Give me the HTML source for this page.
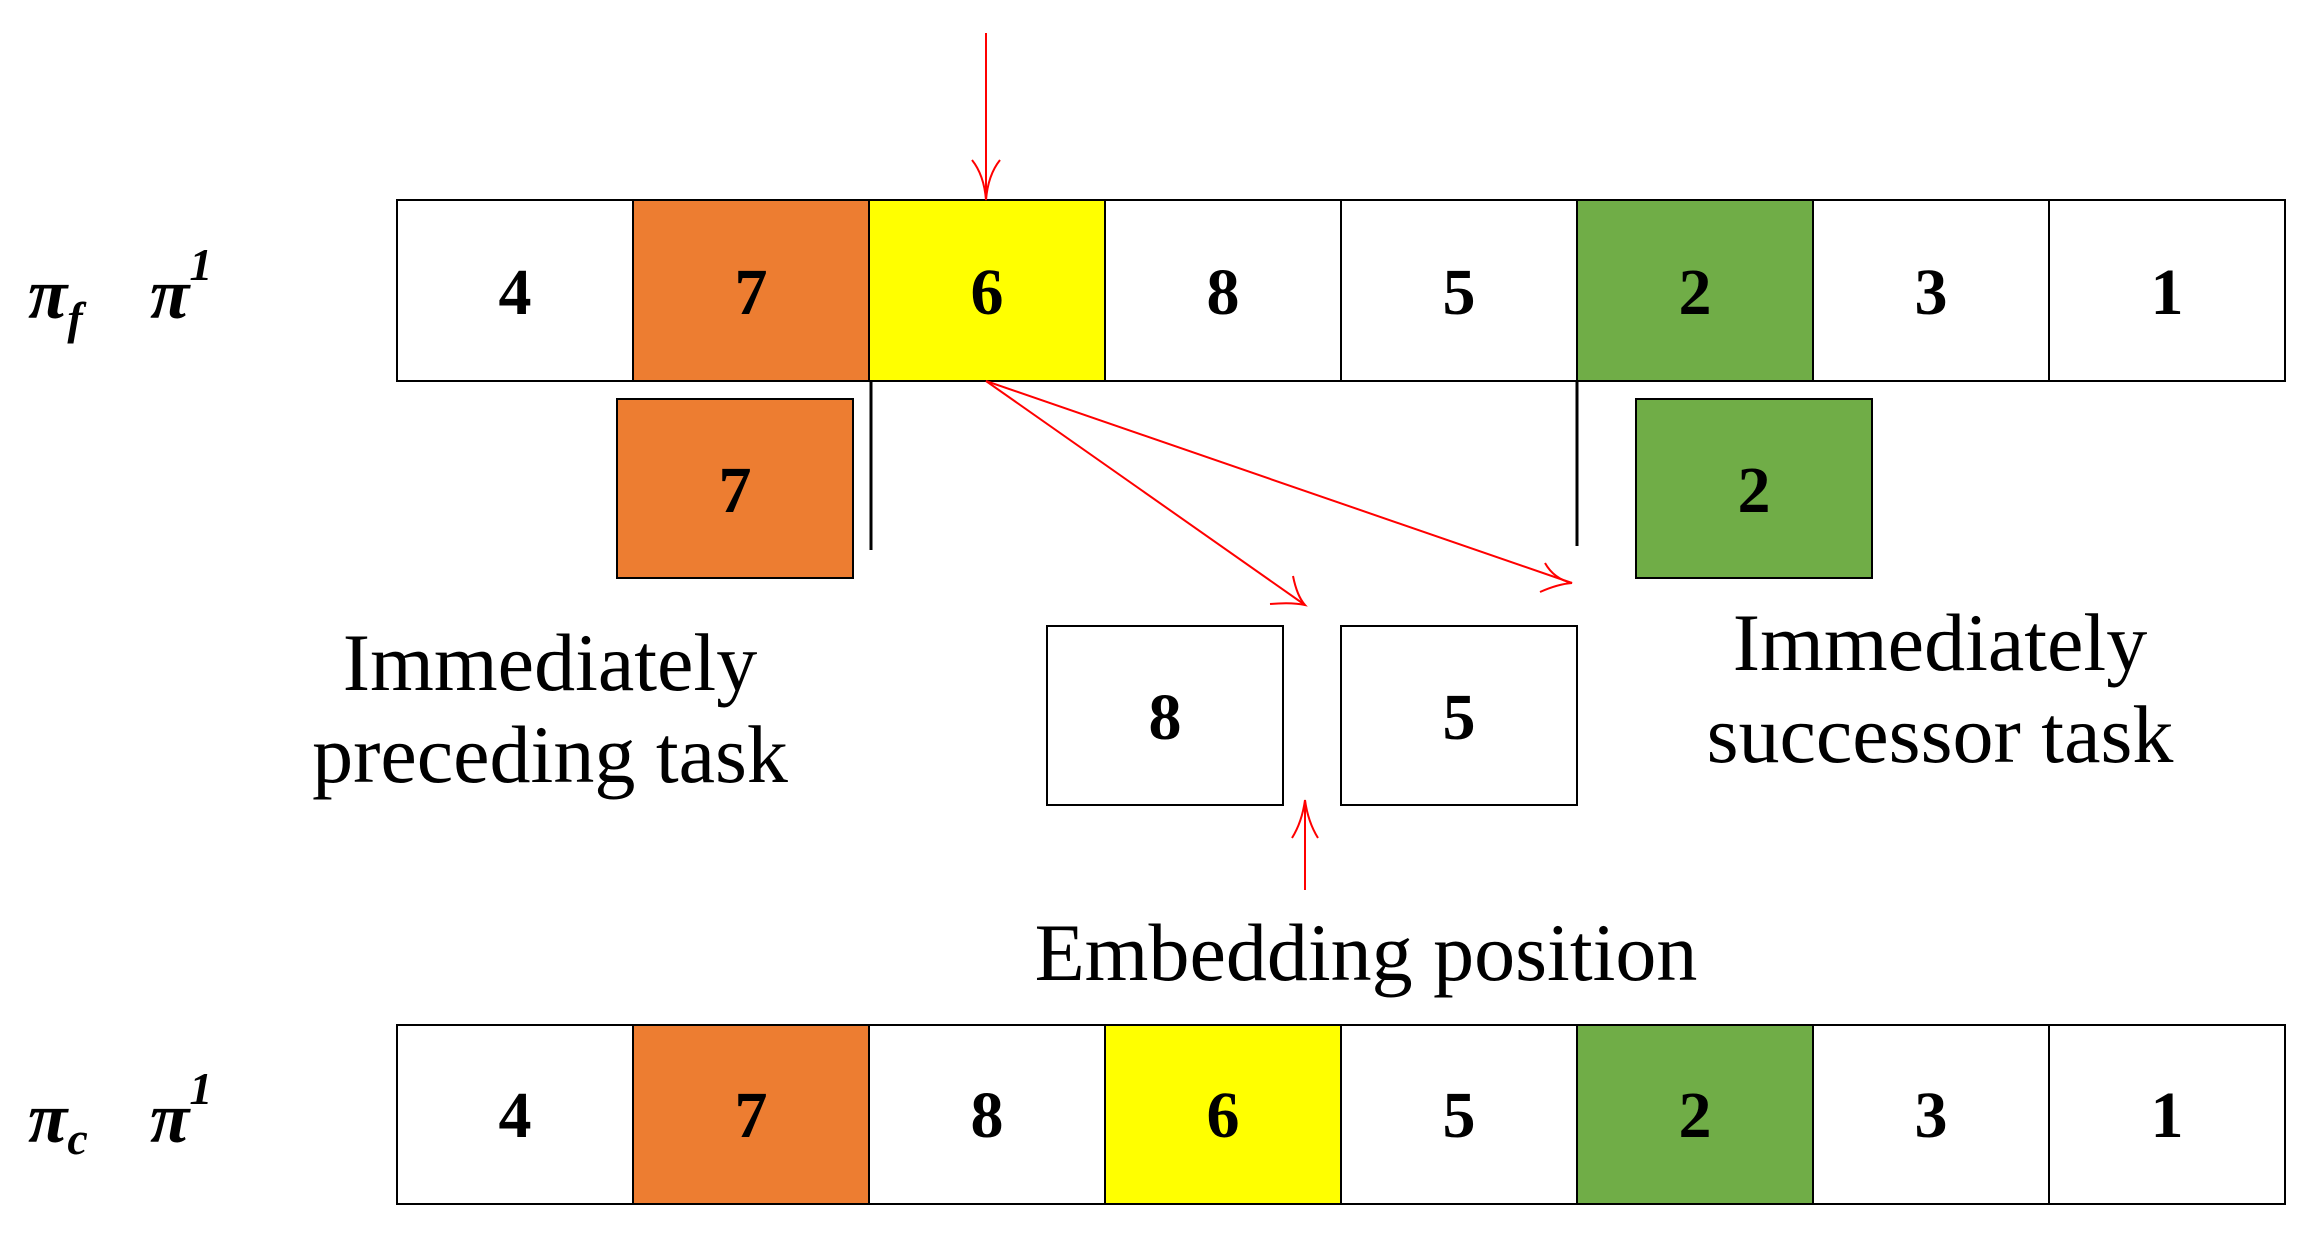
<!DOCTYPE html>
<html><head><meta charset="utf-8"><style>
html,body{margin:0;padding:0;background:#fff;}
svg{display:block;}
</style></head><body>
<svg width="2313" height="1244" viewBox="0 0 2313 1244" xmlns="http://www.w3.org/2000/svg" font-family="Liberation Serif, serif">
<g stroke="#000" stroke-width="2">
<!-- top bar -->
<rect x="397" y="200" width="236" height="181" fill="#fff"/>
<rect x="633" y="200" width="236" height="181" fill="#ED7D31"/>
<rect x="869" y="200" width="236" height="181" fill="#FFFF00"/>
<rect x="1105" y="200" width="236" height="181" fill="#fff"/>
<rect x="1341" y="200" width="236" height="181" fill="#fff"/>
<rect x="1577" y="200" width="236" height="181" fill="#70AD47"/>
<rect x="1813" y="200" width="236" height="181" fill="#fff"/>
<rect x="2049" y="200" width="236" height="181" fill="#fff"/>
<!-- bottom bar -->
<rect x="397" y="1025" width="236" height="179" fill="#fff"/>
<rect x="633" y="1025" width="236" height="179" fill="#ED7D31"/>
<rect x="869" y="1025" width="236" height="179" fill="#fff"/>
<rect x="1105" y="1025" width="236" height="179" fill="#FFFF00"/>
<rect x="1341" y="1025" width="236" height="179" fill="#fff"/>
<rect x="1577" y="1025" width="236" height="179" fill="#70AD47"/>
<rect x="1813" y="1025" width="236" height="179" fill="#fff"/>
<rect x="2049" y="1025" width="236" height="179" fill="#fff"/>
<!-- small boxes -->
<rect x="617" y="399" width="236" height="179" fill="#ED7D31"/>
<rect x="1636" y="399" width="236" height="179" fill="#70AD47"/>
<rect x="1047" y="626" width="236" height="179" fill="#fff"/>
<rect x="1341" y="626" width="236" height="179" fill="#fff"/>
<line x1="871" y1="381" x2="871" y2="550" stroke-width="3"/>
<line x1="1577" y1="381" x2="1577" y2="546" stroke-width="3"/>
</g>
<g stroke="#f00" stroke-width="2" fill="none">
<line x1="986" y1="33" x2="986" y2="200"/>
<path d="M972 160 Q984 175 986 200 Q988 175 1000 160"/>
<line x1="986" y1="381" x2="1305" y2="605"/>
<path d="M1293 576 Q1297 596 1305 605 Q1292 602 1270 604"/>
<line x1="986" y1="381" x2="1572" y2="583"/>
<path d="M1545 563 Q1554 579 1572 583 Q1558 584 1540 592"/>
<line x1="1305" y1="890" x2="1305" y2="800"/>
<path d="M1292 838 Q1302 822 1305 800 Q1308 822 1318 838"/>
</g>
<g font-weight="bold" font-size="66" text-anchor="middle">
<text x="515" y="314">4</text><text x="751" y="314">7</text><text x="987" y="314">6</text><text x="1223" y="314">8</text>
<text x="1459" y="314">5</text><text x="1695" y="314">2</text><text x="1931" y="314">3</text><text x="2167" y="314">1</text>
<text x="515" y="1137">4</text><text x="751" y="1137">7</text><text x="987" y="1137">8</text><text x="1223" y="1137">6</text>
<text x="1459" y="1137">5</text><text x="1695" y="1137">2</text><text x="1931" y="1137">3</text><text x="2167" y="1137">1</text>
<text x="735" y="512">7</text><text x="1754" y="512">2</text>
<text x="1165" y="739">8</text><text x="1459" y="739">5</text>
</g>
<g font-size="82" text-anchor="middle">
<text x="550" y="690">Immediately</text>
<text x="550" y="782">preceding task</text>
<text x="1940" y="670">Immediately</text>
<text x="1940" y="762">successor task</text>
<text x="1366" y="980">Embedding position</text>
</g>
<g font-weight="bold" font-style="italic" font-size="72">
<text x="28" y="318">π<tspan font-size="46" dy="16">f</tspan></text>
<text x="150" y="318">π<tspan font-size="46" dy="-38">1</tspan></text>
<text x="28" y="1142">π<tspan font-size="46" dy="12">c</tspan></text>
<text x="150" y="1142">π<tspan font-size="46" dy="-38">1</tspan></text>
</g>
</svg>
</body></html>
